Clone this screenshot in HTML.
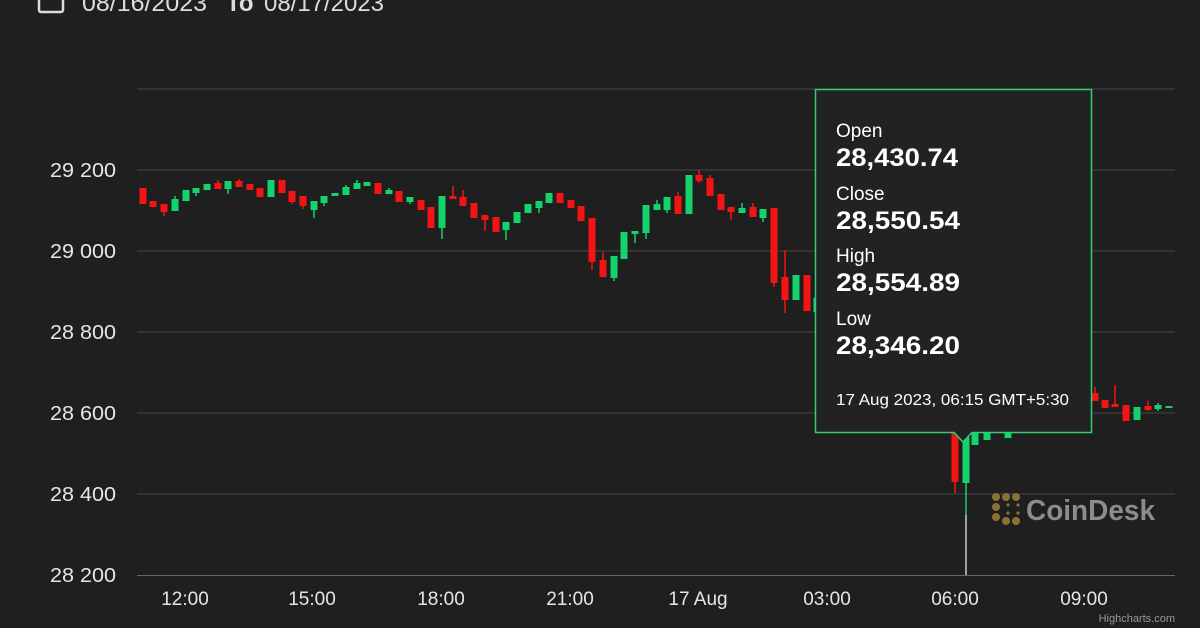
<!DOCTYPE html>
<html><head><meta charset="utf-8"><style>
html,body{margin:0;padding:0;background:#1f1f1f;}
body{width:1200px;height:628px;overflow:hidden;position:relative;font-family:"Liberation Sans",Arial,sans-serif;}
</style></head><body>
<svg id="s" width="1200" height="628" xmlns="http://www.w3.org/2000/svg" style="position:absolute;left:0;top:0">
<rect width="1200" height="628" fill="#1f1f1f"/>
<rect x="39" y="-12" width="24" height="24" rx="2" fill="none" stroke="#ddd" stroke-width="2.5"/>
<text x="82" y="11" fill="#ddd" font-size="24" textLength="125" lengthAdjust="spacingAndGlyphs">08/16/2023</text>
<text x="226" y="11" fill="#ddd" font-size="24" font-weight="bold">To</text>
<text x="264" y="11" fill="#ddd" font-size="24" textLength="120" lengthAdjust="spacingAndGlyphs">08/17/2023</text>
<g stroke="#474747" stroke-width="1">
<line x1="137" y1="89" x2="1175" y2="89"/><line x1="137" y1="170" x2="1175" y2="170"/>
<line x1="137" y1="251" x2="1175" y2="251"/><line x1="137" y1="332" x2="1175" y2="332"/>
<line x1="137" y1="413" x2="1175" y2="413"/><line x1="137" y1="494" x2="1175" y2="494"/>
</g>
<line x1="137" y1="575.5" x2="1175" y2="575.5" stroke="#666"/>
<g fill="#e6e6e6" font-size="20">
<text x="50" y="177" textLength="66" lengthAdjust="spacingAndGlyphs">29 200</text><text x="50" y="258" textLength="66" lengthAdjust="spacingAndGlyphs">29 000</text><text x="50" y="339" textLength="66" lengthAdjust="spacingAndGlyphs">28 800</text>
<text x="50" y="420" textLength="66" lengthAdjust="spacingAndGlyphs">28 600</text><text x="50" y="501" textLength="66" lengthAdjust="spacingAndGlyphs">28 400</text><text x="50" y="582" textLength="66" lengthAdjust="spacingAndGlyphs">28 200</text>
</g>
<g fill="#e6e6e6" font-size="19" text-anchor="middle">
<text x="185" y="605">12:00</text><text x="312" y="605">15:00</text><text x="441" y="605">18:00</text>
<text x="570" y="605">21:00</text><text x="698" y="605">17 Aug</text><text x="827" y="605">03:00</text>
<text x="955" y="605">06:00</text><text x="1084" y="605">09:00</text>
</g>
<text x="1175" y="622" fill="#999" font-size="11" text-anchor="end">Highcharts.com</text>
<g id="c"></g>
<line x1="966" y1="515" x2="966" y2="575" stroke="#ccc" stroke-width="1.5"/>
<g fill="#8a7232">
<circle cx="996" cy="497" r="4"/><circle cx="1006" cy="497" r="4"/><circle cx="1016" cy="497" r="4"/>
<circle cx="996" cy="507" r="4"/><circle cx="996" cy="517" r="4"/><circle cx="1006" cy="521" r="4"/><circle cx="1016" cy="521" r="4"/>
<circle cx="1008" cy="505" r="1.6"/><circle cx="1018" cy="505" r="1.6"/><circle cx="1008" cy="513" r="1.6"/><circle cx="1018" cy="513" r="1.6"/>
</g>
<text x="1026" y="520" fill="#8c8c8c" font-size="29" font-weight="bold" textLength="129" lengthAdjust="spacingAndGlyphs">CoinDesk</text>
<path d="M815.5 89.5 H1091.5 V432.5 H972 L963 442 L954 432.5 H815.5 Z" fill="#222" stroke="#2fcf72" stroke-width="1.5"/>
<g fill="#fff">
<text x="836" y="137" font-size="19">Open</text><text x="836" y="166" font-size="25" font-weight="bold" textLength="122" lengthAdjust="spacingAndGlyphs">28,430.74</text>
<text x="836" y="200" font-size="19">Close</text><text x="836" y="229" font-size="25" font-weight="bold" textLength="124" lengthAdjust="spacingAndGlyphs">28,550.54</text>
<text x="836" y="262" font-size="19">High</text><text x="836" y="291" font-size="25" font-weight="bold" textLength="124" lengthAdjust="spacingAndGlyphs">28,554.89</text>
<text x="836" y="325" font-size="19">Low</text><text x="836" y="354" font-size="25" font-weight="bold" textLength="124" lengthAdjust="spacingAndGlyphs">28,346.20</text>
<text x="836" y="405" font-size="16" textLength="233" lengthAdjust="spacingAndGlyphs">17 Aug 2023, 06:15 GMT+5:30</text>
</g>
</svg>
<script>
var R="#f41414",G="#14d26c";
var d=[
[143,R,188,204],[153,R,201,207],[164,R,204,212,204,216],[175,G,199,211,196,211],[186,G,190,201],[196,G,188,193,188,196],
[207,G,184,190],[218,R,183,189,180,189],[228,G,181,189,181,194],[239,R,181,187,179,187],[250,R,184,190],[260,R,188,197],
[271,G,180,197],[282,R,180,193],[292,R,191,202,191,204],[303,R,196,206,196,209],[314,G,201,210,201,218],[324,G,196,203,196,206],
[335,G,193,196],[346,G,187,195,185,195],[357,G,183,189,180,189],[367,G,182,186],[378,R,183,194],[389,G,190,194,188,194],
[399,R,191,202],[410,G,197,202,197,204],[421,R,200,210],[431,R,207,228],[442,G,196,228,196,239],[453,R,196,199,186,199],
[463,R,197,206,190,206],[474,R,203,218],[485,R,215,220,215,231],[496,R,217,232],[506,G,222,230,222,240],[517,G,212,223],
[528,G,204,213],[539,G,201,208,201,213],[549,G,193,203],[560,R,193,203],[571,R,200,208],[581,R,206,221],
[592,R,218,262,218,270],[603,R,260,277,252,277],[614,G,256,278,256,281],[624,G,232,259],[635,G,231,234,231,243],[646,G,205,233,205,239],
[657,G,204,210,200,210],[667,G,197,210,197,213],[678,R,196,214,192,214],[689,G,175,214],[699,R,175,181,170,183],[710,R,178,196,175,196],
[721,R,194,210],[731,R,207,212,207,220],[742,G,208,213,203,213],[753,R,207,217,203,217],[763,G,209,218,209,222],[774,R,208,283,208,287],
[785,R,277,300,250,313],[796,G,275,300],[807,R,275,311],[817,G,298,312],
[955,R,433,482,433,493],[966,G,437,483,437,515],[975,G,433,445],[987,G,433,440],[1008,G,433,438],
[1095,R,393,401,387,401],[1105,R,400,408],[1115,R,404,407,385,407],[1126,R,405,421],[1137,G,407,420],[1148,R,406,410,401,411],
[1158,G,405,409,403,411],[1169,G,406,408]
];
var h="";
d.forEach(function(c){
 var x=c[0],col=c[1],t=c[2],b=c[3],wt=c.length>4?c[4]:t,wb=c.length>5?c[5]:b;
 if(wt<t||wb>b)h+='<rect x="'+(x-0.75)+'" y="'+wt+'" width="1.5" height="'+(wb-wt)+'" fill="'+col+'"/>';
 h+='<rect x="'+(x-3.5)+'" y="'+t+'" width="7" height="'+Math.max(2,b-t)+'" fill="'+col+'"/>';
});
document.getElementById("c").innerHTML=h;
</script>
</body></html>
